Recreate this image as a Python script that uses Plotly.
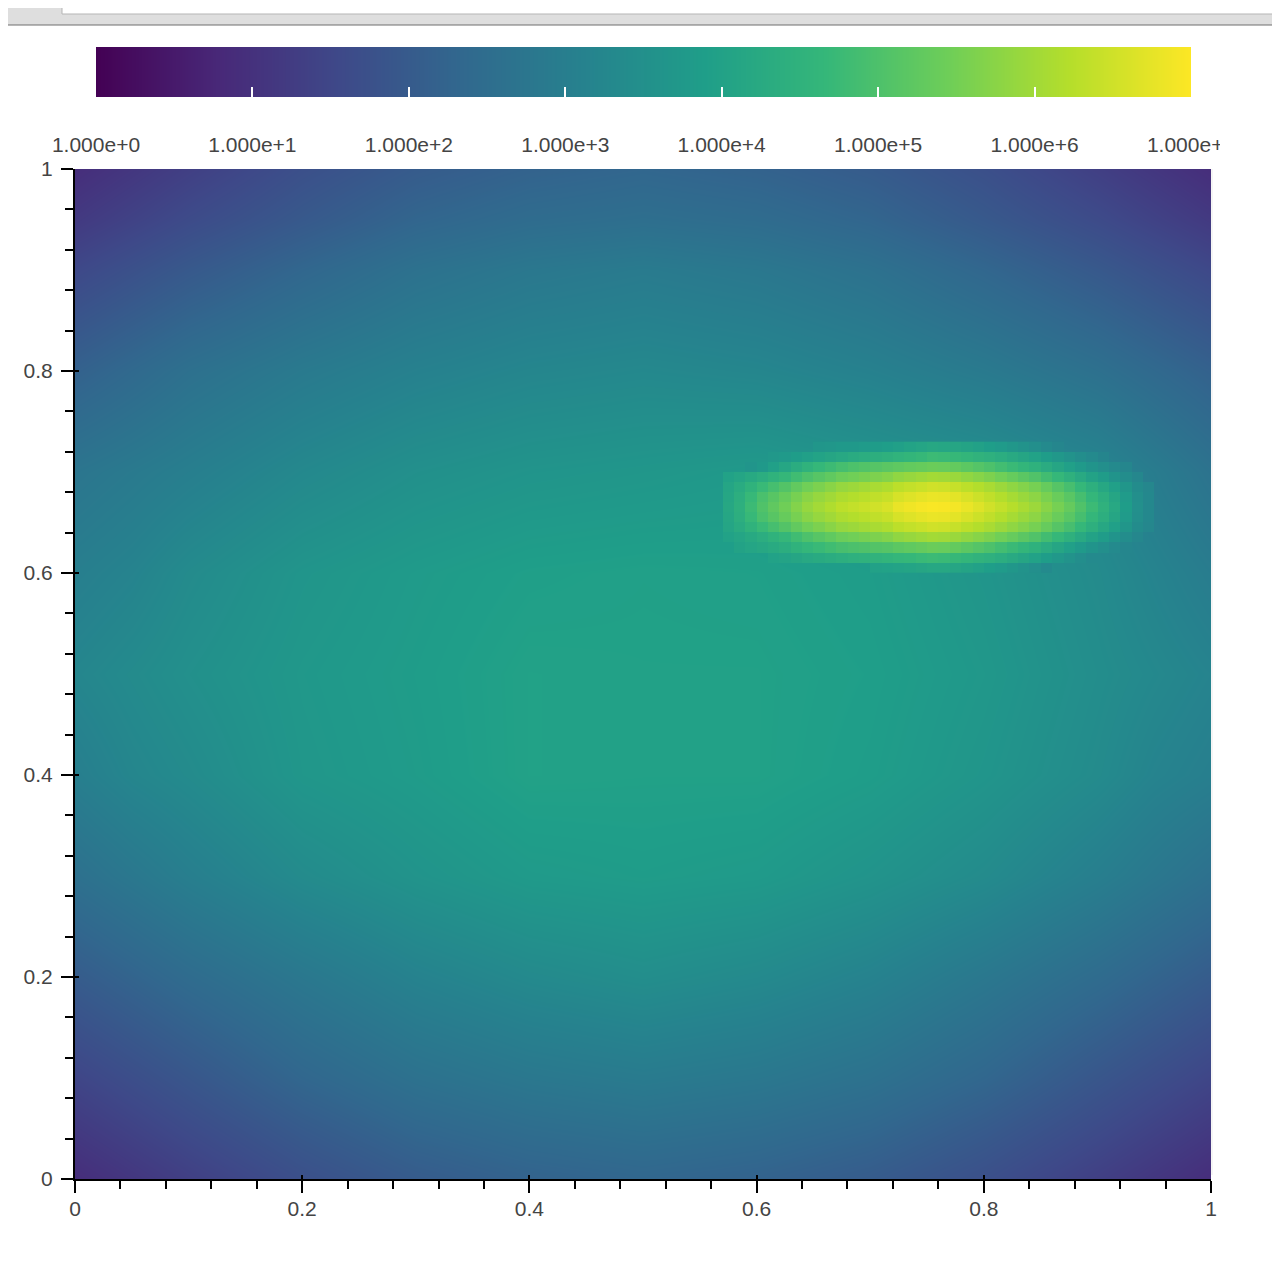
import numpy as np
import plotly.graph_objects as go

# log10 of the field
grid_x = [0, .05, .1, .2, .3, .4, .5, .6, .7, .8, .9, .95, 1]
grid_y = [0, .05, .1, .2, .3, .4, .5, .6, .7, .8, .9, .95, 1]
field_y00 = [.91, 1.12, 1.33, 1.72, 2.02, 2.20, 2.30, 2.20, 2.02, 1.72, 1.33, 1.12, .91]
field_y05 = [1.19, 1.40, 1.61, 2.00, 2.32, 2.50, 2.60, 2.50, 2.32, 2.00, 1.61, 1.40, 1.19]
field_y10 = [1.47, 1.68, 1.89, 2.31, 2.62, 2.80, 2.90, 2.80, 2.62, 2.31, 1.89, 1.68, 1.47]
field_y20 = [2.03, 2.24, 2.45, 2.80, 3.12, 3.32, 3.44, 3.32, 3.12, 2.80, 2.45, 2.24, 2.03]
field_y30 = [2.59, 2.80, 3.01, 3.36, 3.60, 3.78, 3.84, 3.78, 3.60, 3.36, 3.01, 2.80, 2.59]
field_y40 = [3.01, 3.22, 3.36, 3.68, 3.82, 4.00, 3.98, 3.98, 3.86, 3.64, 3.36, 3.15, 3.01]
field_y50 = [3.22, 3.36, 3.50, 3.72, 3.85, 4.00, 3.98, 3.98, 3.90, 3.71, 3.43, 3.29, 3.15]
field_y60 = [3.01, 3.15, 3.36, 3.64, 3.80, 3.92, 3.96, 3.94, 3.85, 3.64, 3.36, 3.15, 2.94]
field_y70 = [2.73, 2.87, 3.01, 3.29, 3.50, 3.62, 3.68, 3.76, 3.62, 3.50, 3.22, 2.94, 2.66]
field_y80 = [2.17, 2.38, 2.59, 2.87, 3.08, 3.22, 3.29, 3.22, 3.08, 2.87, 2.59, 2.38, 2.17]
field_y90 = [1.54, 1.75, 1.96, 2.31, 2.62, 2.80, 2.90, 2.80, 2.62, 2.31, 1.96, 1.75, 1.54]
field_y95 = [1.19, 1.40, 1.61, 1.96, 2.28, 2.46, 2.54, 2.46, 2.28, 1.96, 1.61, 1.40, 1.19]
field_y100 = [.91, 1.12, 1.33, 1.72, 2.02, 2.20, 2.30, 2.20, 2.02, 1.72, 1.33, 1.12, .91]

# the bright spot, cell by cell, x cells .56 to .96, rows going out from the peak row
N = None
spot_0 = [N, 4.16, 4.42, 4.76, 5.04, 5.25, 5.46, 5.67, 5.88, 6.02, 6.16, 6.30, 6.37, 6.44, 6.51, 6.60, 6.78, 6.86, 6.92, 6.96, 6.95,
          6.90, 6.80, 6.66, 6.51, 6.37, 6.23, 6.09, 5.95, 5.74, 5.53, 5.32, 5.04, 4.76, 4.48, 4.20, 3.85, 3.50, 3.29, N, N]
spot_1 = [N, 4.14, 4.38, 4.70, 4.96, 5.15, 5.34, 5.54, 5.74, 5.88, 6.00, 6.14, 6.20, 6.27, 6.34, 6.42, 6.58, 6.66, 6.74, 6.80, 6.78,
          6.72, 6.60, 6.47, 6.34, 6.20, 6.06, 5.92, 5.78, 5.58, 5.37, 5.16, 4.90, 4.64, 4.38, 4.12, 3.80, 3.48, 3.28, N, N]
spot_2 = [N, 4.10, 4.28, 4.50, 4.72, 4.90, 5.08, 5.28, 5.47, 5.60, 5.74, 5.88, 5.95, 6.02, 6.09, 6.16, 6.30, 6.37, 6.44, 6.51, 6.48,
          6.41, 6.30, 6.20, 6.09, 5.95, 5.81, 5.67, 5.53, 5.33, 5.12, 4.91, 4.66, 4.42, 4.18, 3.95, 3.66, 3.40, 3.24, N, N]
spot_3 = [N, 4.00, 4.10, 4.22, 4.35, 4.50, 4.65, 4.82, 5.00, 5.13, 5.26, 5.40, 5.47, 5.54, 5.61, 5.68, 5.82, 5.89, 5.96, 6.03, 6.00,
          5.93, 5.82, 5.72, 5.61, 5.47, 5.33, 5.19, 5.05, 4.85, 4.66, 4.46, 4.24, 4.02, 3.82, 3.62, 3.42, 3.25, N, N, N]
spot_4_top = [N, N, N, 3.65, 3.75, 3.95, 4.13, 4.32, 4.50, 4.66, 4.78, 4.90, 5.00, 5.06, 5.12, 5.18, 5.24, 5.30, 5.34, 5.39, 5.36,
              5.30, 5.20, 5.10, 5.00, 4.86, 4.73, 4.60, 4.47, 4.30, 4.12, 3.95, 3.78, 3.62, 3.48, 3.34, 3.22, N, N, N, N]
spot_4_bot = [N, N, 4.02, 4.10, 4.18, 4.26, 4.36, 4.50, 4.62, 4.72, 4.82, 4.92, 4.98, 5.02, 5.08, 5.12, 5.20, 5.26, 5.32, 5.39, 5.36,
              5.30, 5.20, 5.10, 5.00, 4.86, 4.73, 4.60, 4.47, 4.30, 4.12, 3.95, 3.78, 3.62, 3.48, 3.34, 3.22, N, N, N, N]
spot_5_top = [N, N, N, N, N, 3.72, 3.78, 3.86, 3.96, 4.04, 4.12, 4.20, 4.28, 4.34, 4.40, 4.46, 4.54, 4.60, 4.68, 4.76, 4.74,
              4.68, 4.60, 4.52, 4.44, 4.34, 4.24, 4.12, 4.00, 3.86, 3.72, 3.58, 3.44, 3.32, 3.20, N, N, N, N, N, N]
spot_5_bot = [N, N, N, N, N, 4.00, 4.05, 4.12, 4.20, 4.26, 4.32, 4.38, 4.44, 4.48, 4.52, 4.56, 4.62, 4.66, 4.72, 4.76, 4.74,
              4.68, 4.60, 4.52, 4.44, 4.34, 4.24, 4.12, 4.00, 3.86, 3.72, 3.58, 3.44, 3.32, N, N, N, N, N, N, N]
spot_6_top = [N, N, N, N, N, N, N, N, N, 3.66, 3.70, 3.74, 3.76, 3.80, 3.84, 3.90, 3.96, 4.04, 4.10, 4.16, 4.15,
              4.12, 4.06, 3.98, 3.90, 3.80, 3.70, 3.58, 3.46, 3.34, 3.22, N, N, N, N, N, N, N, N, N, N]
spot_6_bot = [N, N, N, N, N, N, N, N, N, N, N, N, N, N, 3.98, 4.00, 4.04, 4.08, 4.12, 4.16, 4.16,
              4.12, 4.06, 3.98, 3.90, 3.80, 3.70, 3.58, 3.46, 3.34, N, N, N, N, N, N, N, N, N, N, N]

colorbar_ticks = [0, 1, 2, 3, 4, 5, 6, 7]
colorbar_labels = ['1.000e+0', '1.000e+1', '1.000e+2', '1.000e+3',
                   '1.000e+4', '1.000e+5', '1.000e+6', '1.000e+7']
axis_ticks = [0, .2, .4, .6, .8, 1]
axis_labels = ['0', '0.2', '0.4', '0.6', '0.8', '1']

W, H = 1272, 1256
OFF = 8  # the page's body margin


def px_x(p):
    return (p - OFF) / W


def px_y(p):
    return 1 - (p - OFF) / H


field = [field_y00, field_y05, field_y10, field_y20, field_y30, field_y40, field_y50,
         field_y60, field_y70, field_y80, field_y90, field_y95, field_y100]
spot = [spot_6_bot, spot_5_bot, spot_4_bot, spot_3, spot_2, spot_1, spot_0,
        spot_1, spot_2, spot_3, spot_4_top, spot_5_top, spot_6_top]

fig = go.Figure()
fig.add_trace(go.Heatmap(x=grid_x, y=grid_y, z=field, coloraxis='coloraxis', zsmooth='best', hoverinfo='skip'))
fig.add_trace(go.Heatmap(x0=.565, dx=.01, y0=.605, dy=.01, z=spot, coloraxis='coloraxis', hoverinfo='skip'))
# colour ramp along the top
ramp = np.linspace(0, 7, 256)
fig.add_trace(go.Heatmap(x=ramp, y=[0, 1], z=[ramp, ramp], coloraxis='coloraxis', zsmooth='best',
                         xaxis='x2', yaxis='y2', hoverinfo='skip'))
# empty trace so the inside-tick overlay axes get drawn
fig.add_trace(go.Scatter(x=[], y=[], xaxis='x3', yaxis='y3', showlegend=False))

tick_font = dict(family='Liberation Sans, Arial, sans-serif', size=21, color='#444444')
x_dom = [px_x(75), px_x(1211)]
y_dom = [px_y(1179), px_y(169)]

fig.update_layout(
    width=W, height=H,
    margin=dict(l=0, r=0, t=0, b=0, autoexpand=False),
    paper_bgcolor='white',
    plot_bgcolor='white',
    showlegend=False,
    coloraxis=dict(colorscale='Viridis', cmin=0, cmax=7, showscale=False),
    xaxis=dict(domain=x_dom, range=[0, 1], automargin=False, showgrid=False, zeroline=False, showline=True, linecolor='black', linewidth=2,
               tickvals=axis_ticks, ticktext=axis_labels, ticks='outside', ticklen=12, tickwidth=2, tickcolor='black',
               ticklabelstandoff=-2, tickfont=tick_font,
               minor=dict(tick0=0, dtick=.04, ticks='outside', ticklen=8, tickwidth=2, tickcolor='black', showgrid=False)),
    yaxis=dict(domain=y_dom, range=[0, 1], automargin=False, showgrid=False, zeroline=False, showline=True, linecolor='black', linewidth=2,
               tickvals=axis_ticks, ticktext=axis_labels, ticks='outside', ticklen=12, tickwidth=2, tickcolor='black',
               ticklabelstandoff=4, tickfont=tick_font,
               minor=dict(tick0=0, dtick=.04, ticks='outside', ticklen=8, tickwidth=2, tickcolor='black', showgrid=False)),
    xaxis3=dict(overlaying='x', anchor='y3', range=[0, 1], automargin=False, showgrid=False, zeroline=False, showticklabels=False,
                tickvals=axis_ticks, ticks='inside', ticklen=4, tickwidth=2, tickcolor='black'),
    yaxis3=dict(overlaying='y', anchor='x3', range=[0, 1], automargin=False, showgrid=False, zeroline=False, showticklabels=False,
                tickvals=axis_ticks, ticks='inside', ticklen=4, tickwidth=2, tickcolor='black'),
    xaxis2=dict(domain=[px_x(96), px_x(1191)], anchor='y2', range=[0, 7], automargin=False, showgrid=False, zeroline=False,
                tickvals=colorbar_ticks, ticktext=colorbar_labels, ticks='inside', ticklen=10, tickwidth=2,
                tickcolor='white', ticklabelstandoff=33, tickfont=tick_font),
    yaxis2=dict(domain=[px_y(97), px_y(47)], anchor='x2', range=[0, 1], automargin=False, showgrid=False, zeroline=False,
                showticklabels=False, ticks=''),
    shapes=[
        # browser strip caught in the screenshot
        dict(type='rect', xref='paper', yref='paper', x0=0, x1=1, y0=px_y(25), y1=1,
             fillcolor='#dedede', line=dict(width=0), layer='above'),
        dict(type='rect', xref='paper', yref='paper', x0=px_x(62), x1=1.01, y0=px_y(14), y1=1.01,
             fillcolor='white', line=dict(color='#b5b5b5', width=1), layer='above'),
        dict(type='line', xref='paper', yref='paper', x0=0, x1=1, y0=px_y(25), y1=px_y(25),
             line=dict(color='#6e6e6e', width=1), layer='above'),
        # canvas ends here, the last label is cut off
        dict(type='rect', xref='paper', yref='paper', x0=px_x(1220), x1=1, y0=px_y(160), y1=px_y(130),
             fillcolor='white', line=dict(width=0), layer='above'),
        dict(type='line', xref='paper', yref='paper', x0=px_x(1212), x1=px_x(1212), y0=px_y(1175), y1=px_y(169),
             line=dict(color='#ebebeb', width=1), layer='below'),
    ],
)

fig.write_html("out.html")
